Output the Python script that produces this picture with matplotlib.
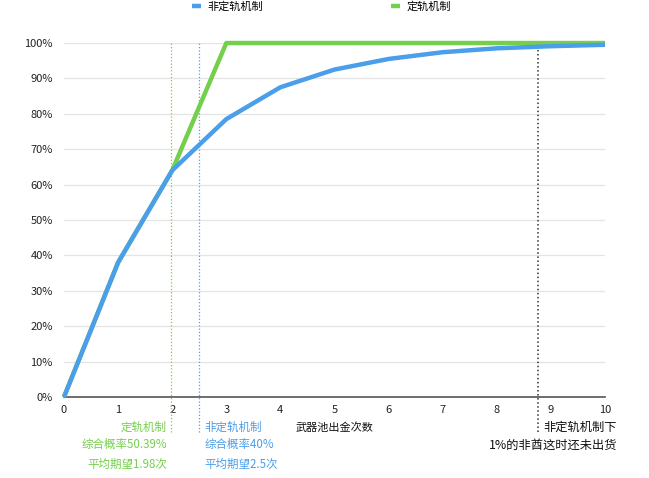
import matplotlib
matplotlib.use("Agg")
import matplotlib.pyplot as plt
from matplotlib.ticker import FuncFormatter

plt.rcParams['font.family'] = ['Noto Sans CJK SC', 'DejaVu Sans']

# 武器池出金次数
pulls = [0, 1, 2, 3, 4, 5, 6, 7, 8, 9, 10]
# 非定轨机制 cumulative probability (%)
no_path = [0, 38, 64, 78.5, 87.5, 92.5, 95.5, 97.4, 98.5, 99.1, 99.5]
# 定轨机制 cumulative probability (%)
with_path = [0, 38, 64, 100, 100, 100, 100, 100, 100, 100, 100]

# marker positions (pulls)
path_mean = 1.98
no_path_mean = 2.5
one_pct_mark = 8.76

blue = '#4a9eea'
green = '#74cf4c'

fig = plt.figure(figsize=(6.49, 4.78), dpi=100)
ax = fig.add_axes([0.0986, 0.1695, 0.8336, 0.7405])

ax.set_xlim(0, 10)
ax.set_ylim(0, 100)
ax.set_yticks(range(0, 101, 10))
ax.set_xticks(pulls)
ax.yaxis.set_major_formatter(FuncFormatter(lambda v, p: '%d%%' % v))
ax.grid(axis='y', color='#e4e4e4', linewidth=0.9)
ax.set_axisbelow(True)
for s in ['top', 'right', 'left']:
    ax.spines[s].set_visible(False)
ax.spines['bottom'].set_color('#555555')
ax.spines['bottom'].set_linewidth(1.2)
ax.tick_params(axis='both', length=0, labelsize=8, colors='#222222')
ax.tick_params(axis='x', pad=6)
ax.tick_params(axis='y', pad=8)

ax.plot(pulls, with_path, color=green, linewidth=3.2, clip_on=False, solid_capstyle='butt', label='定轨机制', zorder=3)
ax.plot(pulls, no_path, color=blue, linewidth=3.2, clip_on=False, solid_capstyle='butt', label='非定轨机制', zorder=4)

# dotted markers, running a bit below the axis
trans = ax.get_xaxis_transform()
ax.plot([path_mean, path_mean], [-0.1, 1.0], transform=trans, color=green, linestyle=':', linewidth=0.9, clip_on=False, zorder=2)
ax.plot([no_path_mean, no_path_mean], [-0.1, 1.0], transform=trans, color=blue, linestyle=':', linewidth=0.9, clip_on=False, zorder=2)
ax.plot([one_pct_mark, one_pct_mark], [-0.1, 1.0], transform=trans, color='#333333', linestyle=':', linewidth=1.1, clip_on=False, zorder=2)

ax.set_xlabel('武器池出金次数', fontsize=8, color='#111111', labelpad=5)

fs = 8.3
ax.text(1.9, -0.085, '定轨机制', transform=trans, color=green, fontsize=fs, ha='right', va='center')
ax.text(1.9, -0.135, '综合概率50.39%', transform=trans, color=green, fontsize=fs, ha='right', va='center')
ax.text(1.9, -0.19, '平均期望1.98次', transform=trans, color=green, fontsize=fs, ha='right', va='center')

ax.text(2.6, -0.085, '非定轨机制', transform=trans, color=blue, fontsize=fs, ha='left', va='center')
ax.text(2.6, -0.135, '综合概率40%', transform=trans, color=blue, fontsize=fs, ha='left', va='center')
ax.text(2.6, -0.19, '平均期望2.5次', transform=trans, color=blue, fontsize=fs, ha='left', va='center')

ax.text(10.22, -0.085, '非定轨机制下', transform=trans, color='#111111', fontsize=8.8, ha='right', va='center')
ax.text(10.22, -0.137, '1%的非酋这时还未出货', transform=trans, color='#111111', fontsize=8.8, ha='right', va='center')

handles, labels = ax.get_legend_handles_labels()
fig.legend(handles[::-1], labels[::-1], loc='upper center', bbox_to_anchor=(0.495, 1.018), ncol=2,
           frameon=False, fontsize=8, handlelength=0.8, handletextpad=0.6, columnspacing=11.5)

fig.savefig('out.png', dpi=100)
